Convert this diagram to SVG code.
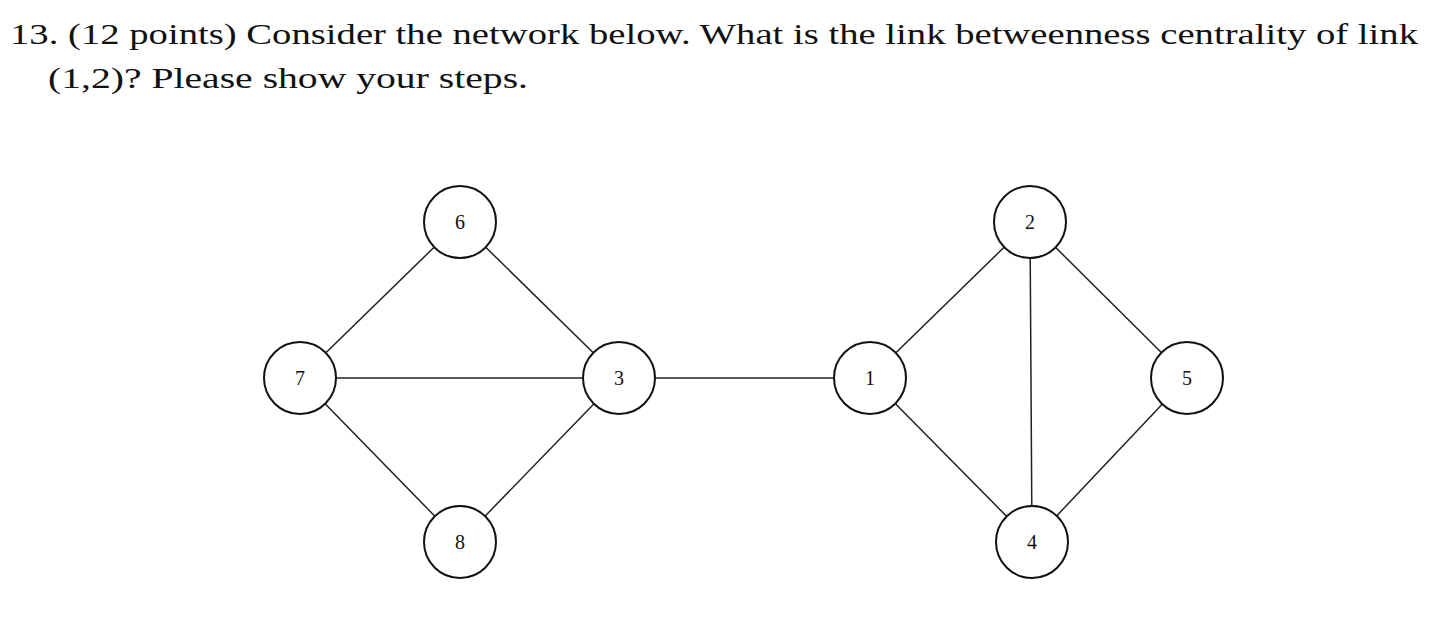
<svg xmlns="http://www.w3.org/2000/svg" width="1450" height="620" viewBox="0 0 1450 620">
<style>
.t{font-family:"Liberation Serif","DejaVu Serif",serif;font-size:29px;fill:#111}
.n circle{fill:#fff;stroke:#111;stroke-width:2}
.n text{font-family:"Liberation Serif","DejaVu Serif",serif;font-size:20px;fill:#111;text-anchor:middle;dominant-baseline:central}
#edges line{stroke:#222;stroke-width:1.5}
</style>
<rect width="1450" height="620" fill="#fff"/>
<text class="t" x="10" y="44" textLength="1408" lengthAdjust="spacingAndGlyphs">13. (12 points) Consider the network below. What is the link betweenness centrality of link</text>
<text class="t" x="48" y="88" textLength="480" lengthAdjust="spacingAndGlyphs">(1,2)? Please show your steps.</text>
<g id="edges">
<line x1="460" y1="222" x2="300" y2="378"/>
<line x1="460" y1="222" x2="619" y2="378"/>
<line x1="300" y1="378" x2="619" y2="378"/>
<line x1="300" y1="378" x2="460" y2="542"/>
<line x1="619" y1="378" x2="460" y2="542"/>
<line x1="619" y1="378" x2="870" y2="378"/>
<line x1="870" y1="378" x2="1030" y2="222"/>
<line x1="870" y1="378" x2="1032" y2="542"/>
<line x1="1030" y1="222" x2="1032" y2="542"/>
<line x1="1030" y1="222" x2="1187" y2="378"/>
<line x1="1187" y1="378" x2="1032" y2="542"/>
</g>
<g id="node6" class="n"><circle cx="460" cy="222" r="36"/><text x="460" y="222">6</text></g>
<g id="node7" class="n"><circle cx="300" cy="378" r="36"/><text x="300" y="378">7</text></g>
<g id="node3" class="n"><circle cx="619" cy="378" r="36"/><text x="619" y="378">3</text></g>
<g id="node8" class="n"><circle cx="460" cy="542" r="36"/><text x="460" y="542">8</text></g>
<g id="node1" class="n"><circle cx="870" cy="378" r="36"/><text x="870" y="378">1</text></g>
<g id="node2" class="n"><circle cx="1030" cy="222" r="36"/><text x="1030" y="222">2</text></g>
<g id="node5" class="n"><circle cx="1187" cy="378" r="36"/><text x="1187" y="378">5</text></g>
<g id="node4" class="n"><circle cx="1032" cy="542" r="36"/><text x="1032" y="542">4</text></g>
</svg>
